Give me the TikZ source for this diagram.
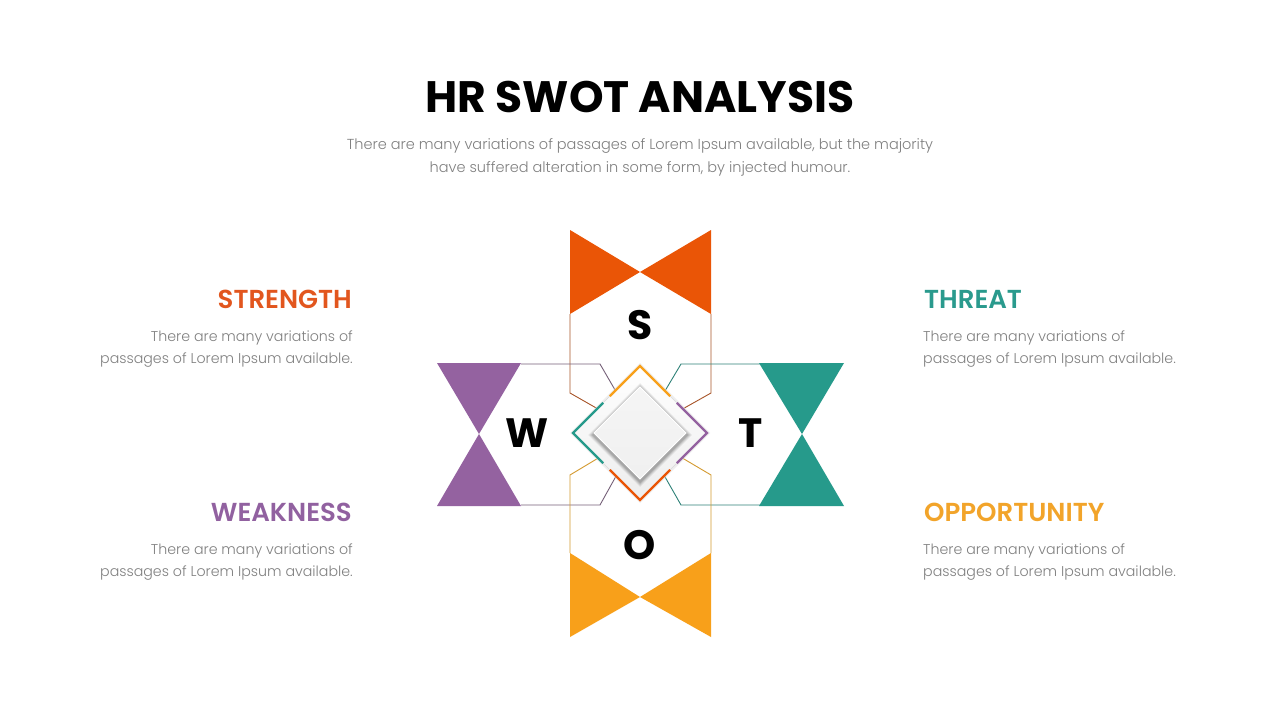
\documentclass[tikz,border=0pt]{standalone}
\usepackage{fontspec}
\setmainfont{Poppins}
\newfontfamily\headfont{Poppins SemiBold}
\newfontfamily\boldfont{Poppins Bold}
\newfontfamily\lightfont{Poppins Light}
\usetikzlibrary{calc}
\definecolor{sC}{HTML}{EA5506}
\definecolor{wC}{HTML}{9462A0}
\definecolor{tC}{HTML}{269A8B}
\definecolor{oC}{HTML}{F8A01A}
\definecolor{sL}{HTML}{A8552A}
\definecolor{wL}{HTML}{756078}
\definecolor{tL}{HTML}{2F8278}
\definecolor{oL}{HTML}{D49A30}
\definecolor{sH}{HTML}{E2561E}
\definecolor{wH}{HTML}{9161A0}
\definecolor{tH}{HTML}{2A9A8D}
\definecolor{oH}{HTML}{F2A42A}
\definecolor{bodygray}{HTML}{808080}
\tikzset{
  thinline/.style={line width=0.9pt},
  chevron/.style={line width=2.4pt, line join=miter},
  letter/.style={font=\boldfont\fontsize{41}{41}\selectfont, inner sep=0pt, text=black},
  heading/.style={font=\headfont\fontsize{26}{26}\selectfont, inner sep=0pt},
  bodytext/.style={font=\lightfont\fontsize{14.2}{22}\selectfont, text=bodygray, inner sep=0pt},
}
\begin{document}
\begin{tikzpicture}[x=1pt,y=-1pt]
\useasboundingbox (0,0) rectangle (1280,720);
\fill[white] (0,0) rectangle (1280,720);

% title and subtitle
\node[font=\boldfont\fontsize{44}{44}\selectfont, inner sep=0pt, anchor=base] (title) at (640,112) {HR SWOT ANALYSIS};
\node[font=\lightfont\fontsize{14.5}{23}\selectfont, text=bodygray, inner sep=0pt, anchor=base, align=center] (sub1) at (640,149) {There are many variations of passages of Lorem Ipsum available, but the majority};
\node[font=\lightfont\fontsize{14.5}{23}\selectfont, text=bodygray, inner sep=0pt, anchor=base, align=center] (sub2) at (640,172) {have suffered alteration in some form, by injected humour.};

% side texts
\node[heading, text=sH, anchor=base east] (sh) at (352,308) {STRENGTH};
\node[bodytext, anchor=base east] (sb1) at (353,341) {There are many variations of};
\node[bodytext, anchor=base east] (sb2) at (353,363) {passages of Lorem Ipsum available.};
\node[heading, text=wH, anchor=base east] (wh) at (352,521) {WEAKNESS};
\node[bodytext, anchor=base east] (wb1) at (353,554) {There are many variations of};
\node[bodytext, anchor=base east] (wb2) at (353,576) {passages of Lorem Ipsum available.};
\node[heading, text=tH, anchor=base west] (th) at (924,308) {THREAT};
\node[bodytext, anchor=base west] (tb1) at (923,341) {There are many variations of};
\node[bodytext, anchor=base west] (tb2) at (923,363) {passages of Lorem Ipsum available.};
\node[heading, text=oH, anchor=base west] (oh) at (924,521) {OPPORTUNITY};
\node[bodytext, anchor=base west] (ob1) at (923,554) {There are many variations of};
\node[bodytext, anchor=base west] (ob2) at (923,576) {passages of Lorem Ipsum available.};

\coordinate (c) at (640,433);

% outline lines
\draw[thinline, sL] (570,314) -- (570,393) -- (c);
\draw[thinline, sL] (711,314) -- (711,393) -- (c);
\draw[thinline, wL] (521,364) -- (600,364) -- (c);
\draw[thinline, wL] (521,505) -- (600,505) -- (c);
\draw[thinline, tL] (760,364) -- (681,364) -- (c);
\draw[thinline, tL] (760,505) -- (681,505) -- (c);
\draw[thinline, oL] (570,553) -- (570,475) -- (c);
\draw[thinline, oL] (711,553) -- (711,475) -- (c);

% triangles
\fill[sC] (570,230) -- (570,314) -- (640,272) -- cycle;
\fill[sC] (711,230) -- (711,314) -- (640,272) -- cycle;
\fill[wC] (437,363) -- (521,363) -- (479,434) -- cycle;
\fill[wC] (437,506) -- (521,506) -- (479,434) -- cycle;
\fill[tC] (759,363) -- (844,363) -- (802,434) -- cycle;
\fill[tC] (759,506) -- (844,506) -- (802,434) -- cycle;
\fill[oC] (570,553) -- (570,637) -- (640,597) -- cycle;
\fill[oC] (711,553) -- (711,637) -- (640,597) -- cycle;

% letters
\node[letter] (S) at (640,325) {S};
\node[letter] (W) at (527,433) {W};
\node[letter] (T) at (751,433) {T};
\node[letter] (O) at (640,545) {O};

% outer diamond
\coordinate (dT) at (640,366);
\coordinate (dR) at (707,433);
\coordinate (dB) at (640,500);
\coordinate (dL) at (573,433);
\fill[gray!25, opacity=0.5] (640,363) -- (710,433) -- (640,503) -- (570,433) -- cycle;
\shade[shading=axis, top color=white, bottom color=gray!14, shading angle=0, draw=gray!30, line width=0.4pt]
  (dT) -- (dR) -- (dB) -- (dL) -- cycle;
\draw[chevron, oC] ($(dT)!0.45!(dL)$) -- (dT) -- ($(dT)!0.45!(dR)$);
\draw[chevron, tC] ($(dL)!0.45!(dT)$) -- (dL) -- ($(dL)!0.45!(dB)$);
\draw[chevron, wC] ($(dR)!0.45!(dT)$) -- (dR) -- ($(dR)!0.45!(dB)$);
\draw[chevron, sC] ($(dB)!0.45!(dL)$) -- (dB) -- ($(dB)!0.45!(dR)$);

% inner diamond with soft shadow
\foreach \k/\op in {6/0.05,5/0.06,4/0.07,3/0.08,2/0.09}{
  \fill[black, opacity=\op] (640,{387-\k+2}) -- ({686+\k},435) -- (640,{479+\k+2}) -- ({594-\k},435) -- cycle;
}
\shade[shading=axis, top color=gray!8, bottom color=gray!12, draw=white, line width=1pt]
  (640,387) -- (686,433) -- (640,479) -- (594,433) -- cycle;
\end{tikzpicture}
\end{document}
